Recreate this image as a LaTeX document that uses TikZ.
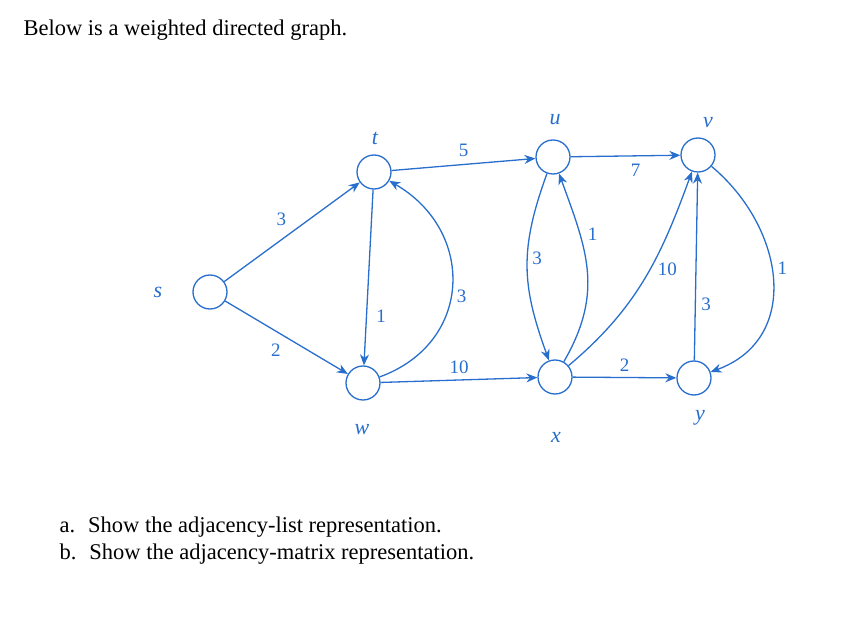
\documentclass[tikz,border=0pt]{standalone}
\usepackage{fontspec}
\setmainfont{Liberation Serif}
\usetikzlibrary{arrows.meta}
\definecolor{pen}{RGB}{40,110,205}
\begin{document}
\begin{tikzpicture}[x=1pt,y=-1pt,
  vtx/.style={draw=pen,circle,minimum size=34pt,inner sep=0pt,line width=1.3pt},
  edge/.style={draw=pen,line width=1.3pt,-{Stealth[length=11pt,width=9pt]}},
  lab/.style={text=pen,font=\fontsize{19}{19}\selectfont},
  vlab/.style={text=pen,font=\fontsize{22}{22}\selectfont\itshape},
  txt/.style={font=\fontsize{22.5}{24}\selectfont,anchor=west}]
\useasboundingbox (0,0) rectangle (868,628);
\node[txt] (title) at (20,30) {Below is a weighted directed graph.};
\node[txt] (qa) at (56,527) {a.\hspace{13pt}Show the adjacency-list representation.};
\node[txt] (qb) at (56,554) {b.\hspace{13pt}Show the adjacency-matrix representation.};
\node[vtx] (s) at (210,292) {};
\node[vtx] (t) at (374,172) {};
\node[vtx] (w) at (363,383) {};
\node[vtx] (u) at (553,157) {};
\node[vtx] (x) at (555,377) {};
\node[vtx] (v) at (698,155) {};
\node[vtx] (y) at (694,378) {};
\node[vlab] (ls) at (158,292) {s};
\node[vlab] (lt) at (375,138) {t};
\node[vlab] (lw) at (362,430) {w};
\node[vlab] (lu) at (555,120) {u};
\node[vlab] (lv) at (708,123) {v};
\node[vlab] (lx) at (556,437) {x};
\node[vlab] (ly) at (700,418) {y};
\draw[edge] (s) -- node[lab,above left=2pt] {3} (t);
\draw[edge] (s) -- node[lab,below left=2pt] {2} (w);
\draw[edge] (t) -- node[lab,above=4pt] {5} (u);
\draw[edge] (t) -- node[lab,pos=0.72,right=6pt] {1} (w);
\draw[edge] (w) to[out=20,in=-30,looseness=1.3] node[lab,pos=0.45,right=2pt] {3} (t);
\draw[edge] (w) -- node[lab,above=2pt] {10} (x);
\draw[edge] (u) to[out=250,in=110,looseness=1.1] node[lab,pos=0.45,right=1pt] {3} (x);
\draw[edge] (x) to[out=60,in=290,looseness=1.1] node[lab,pos=0.7,right=4pt] {1} (u);
\draw[edge] (u) -- node[lab,below=4pt,xshift=10pt] {7} (v);
\draw[edge] (x) to[out=40,in=250] node[lab,pos=0.55,right=4pt] {10} (v);
\draw[edge] (x) -- node[lab,above=2pt] {2} (y);
\draw[edge] (y) -- node[lab,pos=0.3,right=2pt] {3} (v);
\draw[edge] (v) to[out=-40,in=20,looseness=1.2] node[lab,pos=0.45,right=2pt] {1} (y);
\end{tikzpicture}
\end{document}
